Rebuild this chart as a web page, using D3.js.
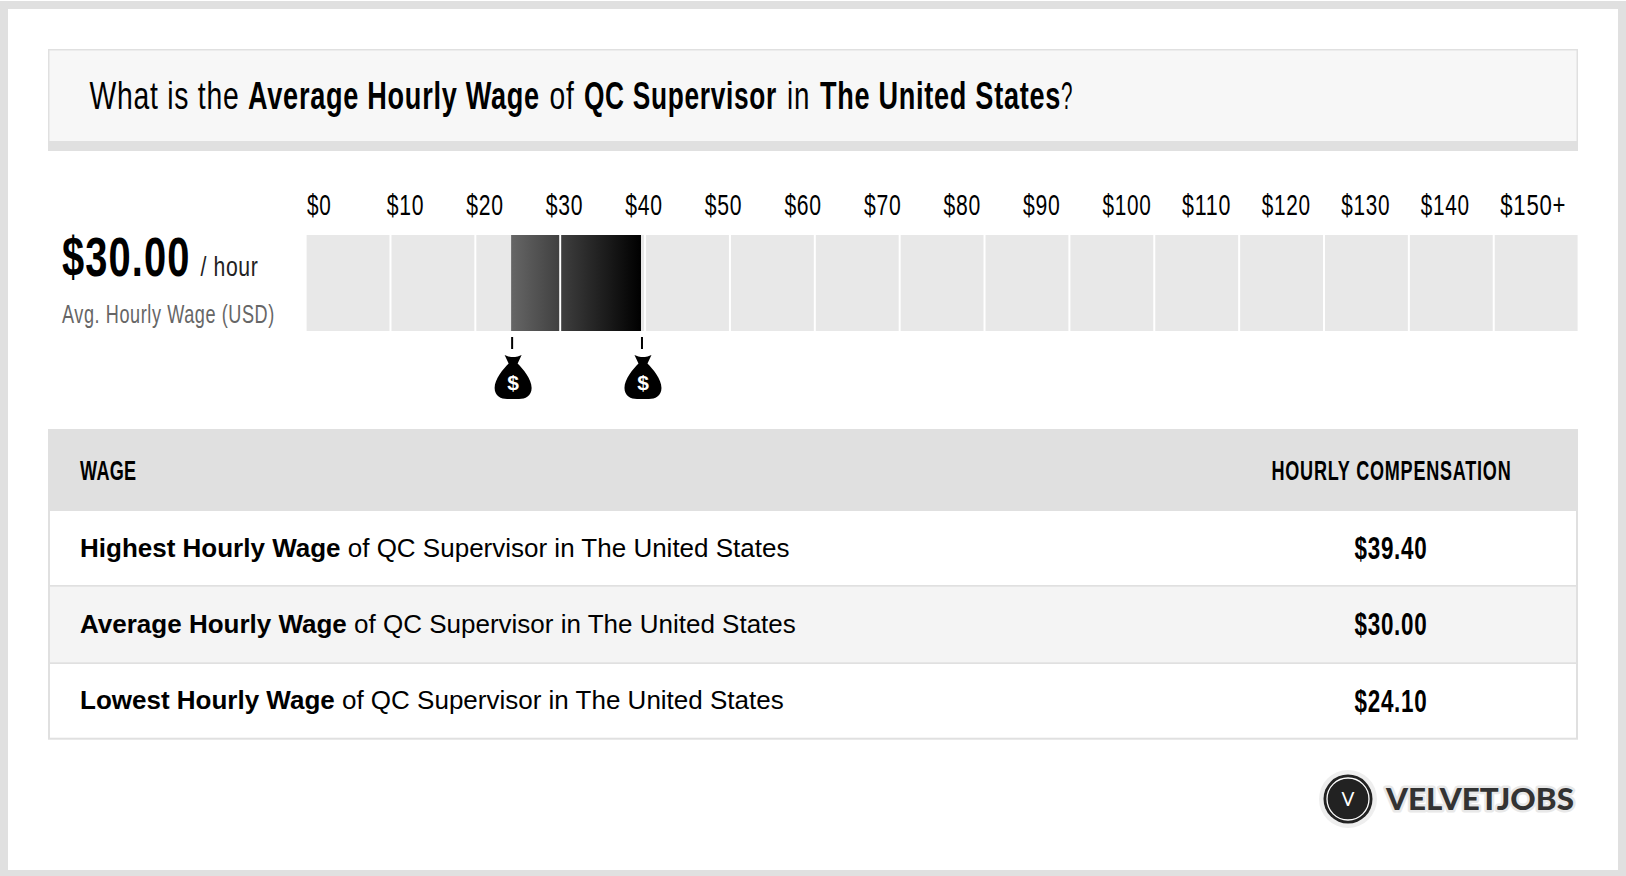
<!DOCTYPE html>
<html>
<head>
<meta charset="utf-8">
<script src="https://cdn.jsdelivr.net/npm/d3@7"></script>
<style>
html, body { margin: 0; padding: 0; background: #fff; overflow: hidden; }
svg { display: block; }
.narrow { font-family: "Liberation Sans Narrow", "Liberation Sans", sans-serif; }
.sans { font-family: "Liberation Sans", sans-serif; }
</style>
</head>
<body>
<div id="chart"></div>
<script>
'use strict'

// values
const tickValues = [0, 10, 20, 30, 40, 50, 60, 70, 80, 90, 100, 110, 120, 130, 140, 150]
const cellStarts = [0, 10, 20, 30, 40, 50, 60, 70, 80, 90, 100, 110, 120, 130, 140]
const lowWage = 24.10
const avgWage = 30.00
const highWage = 39.40
const rowLabels = ['Highest Hourly Wage', 'Average Hourly Wage', 'Lowest Hourly Wage']
const rowValues = [highWage, avgWage, lowWage]
const titleRuns = [
	['What is the', 89.5, 150, false],
	['Average Hourly Wage', 248, 292, true],
	['of', 549.5, 25, false],
	['QC Supervisor', 584, 193, true],
	['in', 787, 23, false],
	['The United States', 820, 241, true],
	['?', 1061, 12, false]
]

const width = 1626
const height = 876
const money = d3.format('$.2f')

let svg = d3.select('#chart').append('svg').attr('width', width).attr('height', height)
let defs = svg.append('defs')

// squeeze a text to the width it has in the picture, the condensed face isn't installed
function fit(sel, w, spacing){
	sel.each(function(d, i){
		let t = d3.select(this)
		let px = +t.attr('x') || 0
		let py = +t.attr('y') || 0
		t.attr('x', 0).attr('y', 0).attr('letter-spacing', spacing || 0)
		let natural = this.getComputedTextLength()
		let target = typeof w == 'function' ? w(d, i) : w
		t.attr('transform', 'translate(' + px + ',' + py + ') scale(' + (target / natural) + ',1)')
	})
	return sel
}

// page frame
svg.append('rect').attr('width', width).attr('height', height).attr('fill', '#e0e0e0')
svg.append('rect').attr('x', 0).attr('y', 0).attr('width', width).attr('height', 1).attr('fill', '#fff')
svg.append('rect').attr('x', 8).attr('y', 9).attr('width', 1610).attr('height', 861).attr('fill', '#fff')

// title box
svg.append('rect').attr('x', 48).attr('y', 49).attr('width', 1530).attr('height', 102).attr('fill', '#e0e0e0')
svg.append('rect').attr('x', 49.5).attr('y', 50.5).attr('width', 1527).attr('height', 90.5).attr('fill', '#f7f7f7')

let titles = svg.append('g').selectAll('text').data(titleRuns).enter().append('text')
	.attr('class', 'narrow')
	.attr('x', d => d[1])
	.attr('y', 108.5)
	.attr('font-size', 38)
	.attr('font-weight', d => d[3] ? 700 : 400)
	.attr('fill', '#000')
	.text(d => d[0])
fit(titles, d => d[2], 1)

// scales
let x = d3.scaleLinear().domain([0, 150]).range([306.6, 1579.6])
let tickX = d3.scaleLinear().domain([0, 150]).range([306.6, 1499.8])
const cellW = x(10) - x(0) - 2
const barTop = 235
const barH = 96

// tick labels through d3 axis
let axis = d3.axisTop(tickX).tickValues(tickValues).tickSize(0).tickPadding(0)
	.tickFormat(d => d == 150 ? '$150+' : '$' + d)
let axisG = svg.append('g').attr('transform', 'translate(0,215)').call(axis)
axisG.select('.domain').remove()
let tickText = axisG.selectAll('text')
	.attr('class', 'narrow')
	.attr('text-anchor', 'start')
	.attr('dy', 0)
	.attr('y', 0)
	.attr('font-size', 29)
	.attr('fill', '#000')
fit(tickText, d => d == 150 ? 66 : d >= 100 ? 49 : d == 0 ? 24.5 : 37.5, 1)

// cells
let clip = defs.append('clipPath').attr('id', 'cellClip')
clip.selectAll('rect').data(cellStarts).enter().append('rect')
	.attr('x', d => x(d)).attr('y', barTop).attr('width', cellW).attr('height', barH)

let grad = defs.append('linearGradient').attr('id', 'wageGrad')
	.attr('gradientUnits', 'userSpaceOnUse')
	.attr('x1', x(lowWage)).attr('x2', x(highWage)).attr('y1', 0).attr('y2', 0)
grad.append('stop').attr('offset', 0).attr('stop-color', '#666')
grad.append('stop').attr('offset', 1).attr('stop-color', '#000')

svg.append('g').selectAll('rect').data(cellStarts).enter().append('rect')
	.attr('x', d => x(d)).attr('y', barTop).attr('width', cellW).attr('height', barH)
	.attr('fill', '#e8e8e8')

svg.append('rect')
	.attr('clip-path', 'url(#cellClip)')
	.attr('x', x(lowWage)).attr('y', barTop)
	.attr('width', x(highWage) - x(lowWage)).attr('height', barH)
	.attr('fill', 'url(#wageGrad)')

// low / high markers
const bagPath = 'M-8.5,0 Q-4,2 -2,2 Q0,2 2,2 Q4,2 8.5,0 L4.5,8.5 C10,14 18.5,24 18.5,33 C18.5,41 12,44 6,44 L-6,44 C-12,44 -18.5,41 -18.5,33 C-18.5,24 -10,14 -4.5,8.5 Z'
let markers = svg.append('g').selectAll('g').data([lowWage, highWage]).enter().append('g')
	.attr('transform', d => 'translate(' + x(d) + ',0)')
markers.append('rect').attr('x', 0).attr('y', 337).attr('width', 2).attr('height', 12).attr('fill', '#000')
markers.append('path').attr('d', bagPath).attr('transform', 'translate(2,355)').attr('fill', '#000')
markers.append('text').attr('class', 'sans').attr('x', 2).attr('y', 389.5)
	.attr('text-anchor', 'middle').attr('font-size', 21).attr('font-weight', 700).attr('fill', '#fff').text('$')

// big number on the left
fit(svg.append('text').attr('class', 'narrow').attr('x', 62).attr('y', 276)
	.attr('font-size', 55).attr('font-weight', 700).attr('fill', '#000')
	.text(money(avgWage)), 128.5, 1.5)
fit(svg.append('text').attr('class', 'narrow').attr('x', 200.5).attr('y', 276)
	.attr('font-size', 27).attr('fill', '#222')
	.text('/ hour'), 58, 0.8)
fit(svg.append('text').attr('class', 'narrow').attr('x', 62).attr('y', 322.5)
	.attr('font-size', 25).attr('fill', '#666')
	.text('Avg. Hourly Wage (USD)'), 213, 0.8)

// table
const rowTops = [511, 586.7, 664]
const rowHeights = [74, 75.6, 73.7]
const rowFills = ['#fff', '#f4f4f4', '#fff']
const baselines = [557, 632.7, 708.7]
const valueBaselines = [559, 635, 711.5]

svg.append('rect').attr('x', 48).attr('y', 429).attr('width', 1530).attr('height', 310.7).attr('fill', '#e0e0e0')
let rows = svg.append('g').selectAll('g').data(rowLabels).enter().append('g')
rows.append('rect')
	.attr('x', 50).attr('width', 1526)
	.attr('y', (d, i) => rowTops[i]).attr('height', (d, i) => rowHeights[i])
	.attr('fill', (d, i) => rowFills[i])
let rowText = rows.append('text').attr('class', 'sans')
	.attr('x', 80).attr('y', (d, i) => baselines[i])
	.attr('font-size', 26).attr('fill', '#000')
rowText.append('tspan').attr('font-weight', 700).text(d => d)
rowText.append('tspan').text(' of QC Supervisor in The United States')
fit(rows.append('text').attr('class', 'narrow')
	.attr('x', 1354.5).attr('y', (d, i) => valueBaselines[i])
	.attr('font-size', 30.5).attr('font-weight', 700).attr('fill', '#000')
	.text((d, i) => money(rowValues[i])), 73, 1)

fit(svg.append('text').attr('class', 'narrow').attr('x', 80).attr('y', 479.5)
	.attr('font-size', 28.5).attr('font-weight', 700).text('WAGE'), 56.5, 0.5)
fit(svg.append('text').attr('class', 'narrow').attr('x', 1271.5).attr('y', 479.5)
	.attr('font-size', 28.5).attr('font-weight', 700).text('HOURLY COMPENSATION'), 240, 1.2)

// logo
let logo = svg.append('g')
logo.append('circle').attr('cx', 1348).attr('cy', 799).attr('r', 29).attr('fill', '#eee')
logo.append('circle').attr('cx', 1348).attr('cy', 799).attr('r', 24.5).attr('fill', '#222')
logo.append('circle').attr('cx', 1348).attr('cy', 799).attr('r', 21).attr('fill', 'none').attr('stroke', '#fff').attr('stroke-width', 1.3)
logo.append('text').attr('x', 1348).attr('y', 806).attr('text-anchor', 'middle')
	.attr('font-family', 'Lato').attr('font-size', 19).attr('fill', '#fff').text('V')
fit(logo.append('text').attr('x', 1386).attr('y', 810)
	.attr('font-family', 'Lato').attr('font-weight', 900).attr('font-size', 31).attr('fill', '#333')
	.attr('stroke', '#e8e8e8').attr('stroke-width', 5).attr('paint-order', 'stroke').attr('stroke-linejoin', 'round')
	.text('VELVETJOBS'), 188, 0)
</script>
</body>
</html>
